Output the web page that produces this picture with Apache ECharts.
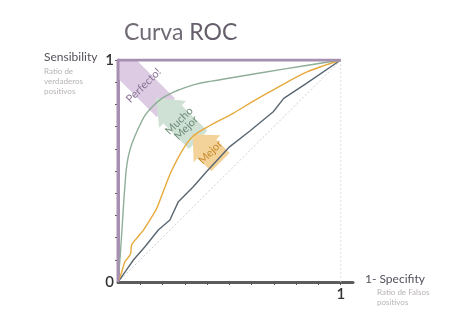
<!DOCTYPE html>
<html>
<head>
<meta charset="utf-8">
<script src="https://cdn.jsdelivr.net/npm/echarts@6/dist/echarts.min.js"></script>
<style>html,body{margin:0;padding:0;background:#fff;}#c{width:474px;height:322px;}</style>
</head>
<body>
<div id="c"></div>
<script>
// ---- data ----
const goodCurve = [[0,0],[0.01,0.12],[0.02,0.27],[0.03,0.42],[0.04,0.53],[0.055,0.6],[0.078,0.662],[0.1,0.71],[0.122,0.752],[0.16,0.795],[0.197,0.827],[0.235,0.848],[0.272,0.865],[0.347,0.89],[0.42,0.905],[0.51,0.92],[0.75,0.96],[1,1]];
const mediumCurve = [[0,0],[0.015,0.04],[0.031,0.091],[0.046,0.111],[0.057,0.129],[0.061,0.167],[0.084,0.197],[0.115,0.235],[0.143,0.279],[0.174,0.332],[0.203,0.407],[0.24,0.5],[0.293,0.6],[0.338,0.658],[0.413,0.705],[0.517,0.76],[0.6,0.81],[0.697,0.865],[0.846,0.945],[1,1]];
const weakCurve = [[0,0],[0.035,0.05],[0.069,0.099],[0.121,0.159],[0.181,0.234],[0.233,0.279],[0.271,0.362],[0.338,0.429],[0.397,0.497],[0.502,0.61],[0.592,0.68],[0.697,0.767],[0.744,0.827],[0.846,0.895],[1,1]];
const perfectCurve = [[0,0],[0,1],[1,1]];
const randomLine = [[0,0],[1,1]];
const limitLine = [[1,0],[1,1]];
// arrows along the diagonal from (0,1): [tip, headBase, end] as distance d -> point (d, 1-d)
const arrowLabels = ['Perfecto!', 'Mucho\nMejor', 'Mejor'];
const arrowTip  = [0, 0.17, 0.335];
const arrowBase = [0, 0.245, 0.4];
const arrowEnd  = [0.215, 0.36, 0.46];
const arrowLabelPos = [0.115, 0.29, 0.415];
const xTicks = [0.1,0.2,0.3,0.4,0.5,0.6,0.7,0.8,0.9,1];
const yTicks = [0.1,0.2,0.3,0.4,0.5,0.6,0.7,0.8,0.9,1];
const xLabels = [1];
const yLabels = [0,1];

const bandColors = ['#dccbe2','#cfe1d4','#f3d39a'];
const labelColors = ['#8c7598','#6f8d78','#c98a2e'];

const chart = echarts.init(document.getElementById('c'));
const FONT = 'Lato';

function renderArrow(params, api) {
  const i = params.dataIndex;
  const tip = api.value(0), base = api.value(1), end = api.value(2), lp = api.value(3);
  const P = d => api.coord([d, 1 - d]);
  const s = Math.SQRT1_2;
  const n = [s, -s]; // perpendicular, up-right
  const w = 13, h = 19;
  const add = (p, k) => [p[0] + n[0] * k, p[1] + n[1] * k];
  const E = P(end);
  let pts;
  if (tip === base) {
    const C = P(0);
    pts = [C, [C[0] + w * Math.SQRT2, C[1]], add(E, w), add(E, -w), [C[0], C[1] + w * Math.SQRT2]];
  } else {
    const T = P(tip), B = P(base);
    pts = [T, add(B, h), add(B, w), add(E, w), add(E, -w), add(B, -w), add(B, -h)];
  }
  const L = P(lp);
  return {
    type: 'group',
    children: [
      { type: 'polygon', shape: { points: pts }, style: { fill: bandColors[i] } },
      { type: 'text', x: L[0], y: L[1], rotation: Math.PI / 4,
        style: { text: arrowLabels[i], fill: labelColors[i], font: '11px ' + FONT,
                 align: 'center', verticalAlign: 'middle', lineHeight: 10 } }
    ]
  };
}

chart.setOption({
  animation: false,
  title: {
    text: '{a|Curva }{b|ROC}', left: 119, top: 16,
    textStyle: { fontWeight: 'normal', rich: {
      a: { fontFamily: FONT, fontSize: 23, color: '#706a75', fontWeight: 'normal' },
      b: { fontFamily: FONT, fontSize: 23, color: '#665f6b', fontWeight: 'normal' }
    } }
  },
  grid: { left: 118, top: 60, width: 235, height: 222 },
  xAxis: {
    type: 'value', min: 0, max: 1.055,
    splitLine: { show: false },
    axisLine: { lineStyle: { color: '#5c5c5c', width: 3 } },
    axisTick: { customValues: xTicks, length: 3, lineStyle: { color: '#555', width: 1 } },
    axisLabel: { customValues: xLabels, color: '#333', fontFamily: FONT, fontSize: 15, fontWeight: 600, margin: 5 }
  },
  yAxis: {
    type: 'value', min: 0, max: 1,
    splitLine: { show: false },
    axisLine: { lineStyle: { color: '#a68fb0', width: 3 } },
    axisTick: { customValues: yTicks, length: 3, lineStyle: { color: '#555', width: 1 } },
    axisLabel: { customValues: yLabels, color: '#333', fontFamily: FONT, fontSize: 15, fontWeight: 600, margin: 4 }
  },
  graphic: [
    { type: 'text', left: 44, top: 51, style: { text: 'Sensibility', font: '12px ' + FONT, fill: '#55505a' } },
    { type: 'text', left: 44, top: 66, style: { text: 'Ratio de\nverdaderos\npositivos', font: '8px ' + FONT, fill: '#b8b3b8', lineHeight: 10 } },
    { type: 'text', left: 365, top: 273, style: { text: '1- Specifity', font: '12px ' + FONT, fill: '#55505a' } },
    { type: 'text', left: 377, top: 287, style: { text: 'Ratio de Falsos\npositivos', font: '8px ' + FONT, fill: '#b8b3b8', lineHeight: 10 } }
  ],
  series: [
    { type: 'line', data: limitLine, symbol: 'none', silent: true, z: 1,
      lineStyle: { color: '#dcdde0', width: 1, type: [2, 2] } },
    { type: 'custom', renderItem: renderArrow, z: 2, silent: true,
      data: arrowTip.map((t, i) => [t, arrowBase[i], arrowEnd[i], arrowLabelPos[i]]) },
    { type: 'line', data: randomLine, symbol: 'none', silent: true, z: 3,
      lineStyle: { color: '#c9cdd6', width: 1, type: [2, 2] } },
    { type: 'line', data: weakCurve, symbol: 'none', silent: true, z: 4,
      lineStyle: { color: '#5a6670', width: 1.4 } },
    { type: 'line', data: mediumCurve, symbol: 'none', silent: true, z: 4, smooth: 0.3,
      lineStyle: { color: '#e6a93c', width: 1.4 } },
    { type: 'line', data: goodCurve, symbol: 'none', silent: true, z: 4, smooth: 0.4,
      lineStyle: { color: '#8fae98', width: 1.4 } },
    { type: 'line', data: perfectCurve, symbol: 'none', silent: true, z: 5,
      lineStyle: { color: '#a68fb0', width: 3 } }
  ]
});
</script>
</body>
</html>
